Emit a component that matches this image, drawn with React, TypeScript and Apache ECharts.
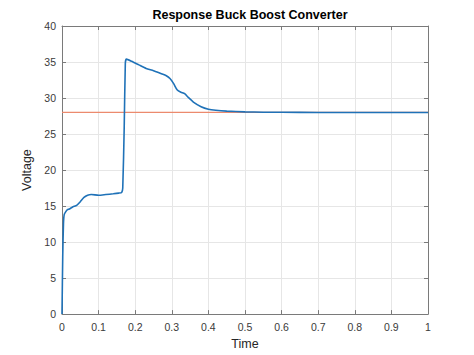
import React, { useEffect, useRef } from "react";
import * as echarts from "echarts";

const timeValues = [0, 0.002, 0.004, 0.006, 0.01, 0.015, 0.02, 0.03, 0.04, 0.05, 0.06, 0.07, 0.08, 0.1, 0.12, 0.14, 0.155, 0.163, 0.166, 0.17, 0.173, 0.176, 0.19, 0.21, 0.23, 0.25, 0.27, 0.285, 0.295, 0.305, 0.315, 0.325, 0.335, 0.345, 0.36, 0.38, 0.4, 0.42, 0.45, 0.5, 0.55, 0.6, 0.7, 0.8, 0.9, 1.0];
const voltageValues = [0, 8, 12.5, 13.8, 14.2, 14.5, 14.6, 14.9, 15.1, 15.6, 16.2, 16.5, 16.6, 16.5, 16.6, 16.7, 16.8, 16.9, 17.5, 26, 34.8, 35.4, 35.1, 34.6, 34.1, 33.8, 33.4, 33.1, 32.7, 32.0, 31.1, 30.8, 30.6, 30.1, 29.4, 28.8, 28.45, 28.3, 28.18, 28.08, 28.03, 28.02, 28.0, 28.0, 28.0, 28.0];
const referenceLevel = 28;
const xTicks = [0, 0.1, 0.2, 0.3, 0.4, 0.5, 0.6, 0.7, 0.8, 0.9, 1];
const yTicks = [0, 5, 10, 15, 20, 25, 30, 35, 40];

const titleText = "Response Buck Boost Converter";
const xName = "Time";
const yName = "Voltage";

export default function App() {
  const ref = useRef<HTMLDivElement>(null);
  useEffect(() => {
    if (!ref.current) return;
    const chart = echarts.init(ref.current, undefined, { renderer: "svg" });
    const font = "'Liberation Sans', Arial, sans-serif";
    const labelColor = "#3a3a3a";
    const axisColor = "#7a7a7a";
    const mkLine = () => ({ show: true, onZero: false, lineStyle: { color: axisColor, width: 1 } });
    const mkTick = () => ({ show: true, inside: true, length: 4, lineStyle: { color: axisColor, width: 1 } });
    const gridLine = () => ({ show: true, lineStyle: { color: "#e6e6e6", width: 1 } });
    chart.setOption({
      animation: false,
      backgroundColor: "#ffffff",
      textStyle: { fontFamily: font },
      title: {
        text: titleText,
        left: 245,
        top: 3,
        textAlign: "center",
        textStyle: { fontSize: 12.5, fontWeight: "bold", color: "#000", fontFamily: font },
      },
      grid: { left: 62, right: 46, top: 26, bottom: 40, show: false },
      xAxis: [
        {
          type: "value",
          position: "bottom",
          min: xTicks[0],
          max: xTicks[xTicks.length - 1],
          interval: 0.1,
          name: xName,
          nameLocation: "middle",
          nameGap: 21,
          nameTextStyle: { fontSize: 12.5, color: "#262626", fontFamily: font },
          axisLine: mkLine(),
          axisTick: mkTick(),
          splitLine: gridLine(),
          axisLabel: { fontSize: 10.5, color: labelColor, margin: 7, fontFamily: font, formatter: (v: number) => String(Math.round(v * 10) / 10) },
        },
        {
          type: "value",
          position: "top",
          min: xTicks[0],
          max: xTicks[xTicks.length - 1],
          interval: 0.1,
          axisLine: mkLine(),
          axisTick: mkTick(),
          splitLine: { show: false },
          axisLabel: { show: false },
        },
      ],
      yAxis: [
        {
          type: "value",
          position: "left",
          min: yTicks[0],
          max: yTicks[yTicks.length - 1],
          interval: 5,
          name: yName,
          nameLocation: "middle",
          nameGap: 28,
          nameTextStyle: { fontSize: 12.5, color: "#262626", fontFamily: font },
          axisLine: mkLine(),
          axisTick: mkTick(),
          splitLine: gridLine(),
          axisLabel: { fontSize: 10.5, color: labelColor, margin: 6, fontFamily: font },
        },
        {
          type: "value",
          position: "right",
          min: yTicks[0],
          max: yTicks[yTicks.length - 1],
          interval: 5,
          axisLine: mkLine(),
          axisTick: mkTick(),
          splitLine: { show: false },
          axisLabel: { show: false },
        },
      ],
      series: [
        {
          type: "line",
          data: [[0, referenceLevel], [1, referenceLevel]],
          showSymbol: false,
          lineStyle: { color: "#ec8a6e", width: 1.3 },
          z: 2,
        },
        {
          type: "line",
          data: timeValues.map((t, i) => [t, voltageValues[i]]),
          showSymbol: false,
          smooth: 0.2,
          lineStyle: { color: "#1f72b8", width: 1.6 },
          z: 3,
        },
      ],
    });
    return () => chart.dispose();
  }, []);
  return <div ref={ref} style={{ width: 474, height: 355, position: "absolute", left: 0, top: 0 }} />;
}
